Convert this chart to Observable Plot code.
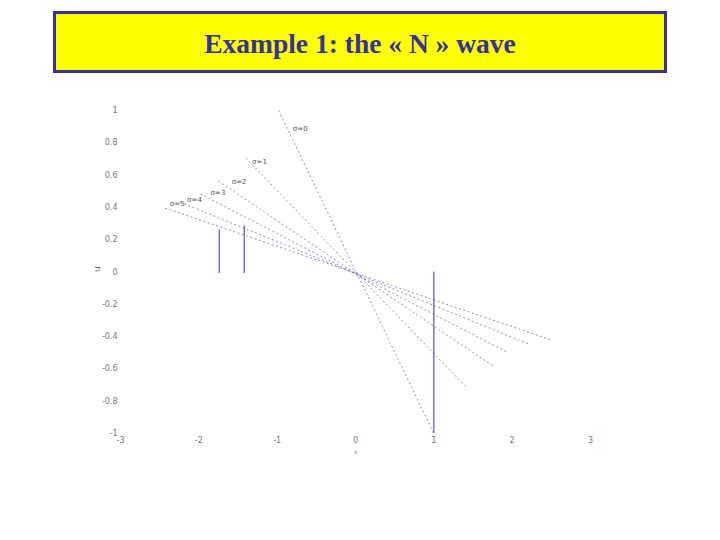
<!DOCTYPE html>
<html>
<head>
<meta charset="utf-8">
<script src="https://cdn.jsdelivr.net/npm/d3@7"></script>
<script src="https://cdn.jsdelivr.net/npm/@observablehq/plot@0.6"></script>
<style>
  html, body { margin: 0; padding: 0; background: #fff; }
  #title {
    box-sizing: border-box;
    margin: 11px 0 0 53px;
    width: 614px;
    height: 62px;
    padding-top: 3px;
    background: #ffff00;
    border: 3px solid #333399;
    color: #333399;
    font-family: "Liberation Serif", "Times New Roman", serif;
    font-weight: bold;
    font-size: 27.5px;
    display: flex;
    align-items: center;
    justify-content: center;
  }
  #chart svg { display: block; }
</style>
</head>
<body>
<div id="title">Example 1: the « N » wave</div>
<div id="chart"></div>
<script>
// Curve labels and segment endpoints
const sigmaLabels = ["σ=0", "σ=1", "σ=2", "σ=3", "σ=4", "σ=5"];
const xStart = [-0.98, -1.40, -1.75, -1.98, -2.24, -2.43];
const yStart = [1.00, 0.706, 0.563, 0.483, 0.433, 0.396];
const xEnd = [1.00, 1.40, 1.75, 1.95, 2.21, 2.49];
const yEnd = [-1.00, -0.706, -0.58, -0.50, -0.446, -0.42];
// label positions
const labelX = [-0.80, -1.32, -1.58, -1.85, -2.15, -2.37];
const labelY = [0.89, 0.68, 0.56, 0.49, 0.45, 0.42];
// Solid vertical markers
const barX = [-1.74, -1.42, 1.00];
const barTop = [0.26, 0.285, 0.0];
const barBottom = [-0.01, -0.01, -1.0];
// Tick values
const xTicks = [-3, -2, -1, 0, 1, 2, 3];
const yTicks = [1, 0.8, 0.6, 0.4, 0.2, 0, -0.2, -0.4, -0.6, -0.8, -1];

const segs = sigmaLabels.map((s, i) => ({s, x1: xStart[i], y1: yStart[i], x2: xEnd[i], y2: yEnd[i], lx: labelX[i], ly: labelY[i]}));
const bars = barX.map((x, i) => ({x, y1: barBottom[i], y2: barTop[i]}));

const chart = Plot.plot({
  width: 720,
  height: 460,
  marginLeft: 120,
  marginRight: 130,
  marginTop: 37,
  marginBottom: 100,
  style: {fontFamily: "DejaVu Sans, sans-serif", fontSize: "8px", color: "#777", background: "#fff"},
  x: {domain: [-3, 3], ticks: xTicks, tickSize: 0, tickPadding: 4, label: null, tickFormat: d => String(d)},
  y: {domain: [-1, 1], ticks: yTicks, tickSize: 0, tickPadding: 3, label: null, tickFormat: d => String(d)},
  marks: [
    Plot.link(segs, {x1: "x1", y1: "y1", x2: "x2", y2: "y2", stroke: "#6a6aaa", strokeWidth: 0.9, strokeDasharray: "2,2.5", strokeOpacity: 0.85}),
    Plot.ruleX(bars, {x: "x", y1: "y1", y2: "y2", stroke: "#5555aa", strokeWidth: 1.2}),
    Plot.text(segs, {x: "lx", y: "ly", text: "s", textAnchor: "start", fill: "#555", fontSize: 7}),
    Plot.text(["u"], {frameAnchor: "left", y: [0], text: d => d, dx: -23, rotate: -90, fill: "#666", fontSize: 9}),
    Plot.text(["x"], {frameAnchor: "bottom", x: [0], text: d => d, dy: 20, fill: "#888", fontSize: 6})
  ]
});
document.getElementById("chart").appendChild(chart);
</script>
</body>
</html>
